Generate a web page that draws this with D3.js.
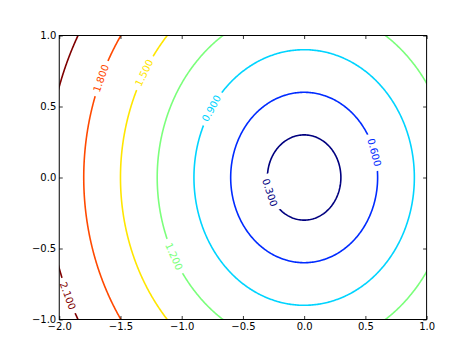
<!DOCTYPE html>
<html>
<head>
<meta charset="utf-8">
<script src="https://cdn.jsdelivr.net/npm/d3@7"></script>
<style>
  html, body { margin: 0; padding: 0; background: #fff; }
  svg { display: block; }
  text { font-family: "DejaVu Sans", sans-serif; }
</style>
</head>
<body>
<svg id="chart" width="474" height="355"></svg>
<script>
// ---- data ----
const levels = [0.3, 0.6, 0.9, 1.2, 1.5, 1.8, 2.1];
const levelColors = ["#00007f", "#002bff", "#00d4ff", "#7bff7b", "#ffe600", "#ff4900", "#7f0000"];
const labelX = [-0.280, 0.573, -0.757, -1.063, -1.306, -1.659, -1.930];
const labelY = [-0.106, 0.177, 0.487, -0.556, 0.737, 0.698, -0.833];
const xTicks = [-2.0, -1.5, -1.0, -0.5, 0.0, 0.5, 1.0];
const yTicks = [-1.0, -0.5, 0.0, 0.5, 1.0];
const xDomain = [-2, 1];
const yDomain = [-1, 1];

// ---- layout ----
const W = 474, H = 355;
const mLeft = 59.25, mRight = 426.6, mTop = 35.5, mBottom = 319.5;
const svg = d3.select("#chart");
const x = d3.scaleLinear().domain(xDomain).range([mLeft, mRight]);
const y = d3.scaleLinear().domain(yDomain).range([mBottom, mTop]);

// ---- field on a grid (radial distance) ----
const gx0 = -2.3, gy0 = -1.3, step = 0.01;
const nx = 361, ny = 261;
const values = new Float64Array(nx * ny);
for (let j = 0; j < ny; j++) {
  for (let i = 0; i < nx; i++) {
    const xx = gx0 + i * step, yy = gy0 + j * step;
    values[j * nx + i] = Math.sqrt(xx * xx + yy * yy);
  }
}
const contours = d3.contours().size([nx, ny]).thresholds(levels)(values);
const proj = d3.geoTransform({
  point: function(px, py) {
    this.stream.point(x(gx0 + (px - 0.5) * step), y(gy0 + (py - 0.5) * step));
  }
});
const path = d3.geoPath(proj);

const defs = svg.append("defs");
defs.append("clipPath").attr("id", "plotclip")
  .append("rect").attr("x", mLeft).attr("y", mTop)
  .attr("width", mRight - mLeft).attr("height", mBottom - mTop);
const mask = defs.append("mask").attr("id", "labelmask")
  .attr("maskUnits", "userSpaceOnUse")
  .attr("x", 0).attr("y", 0).attr("width", W).attr("height", H);
mask.append("rect").attr("x", 0).attr("y", 0).attr("width", W).attr("height", H).attr("fill", "#fff");

const plot = svg.append("g").attr("clip-path", "url(#plotclip)");
const lines = plot.append("g").attr("mask", "url(#labelmask)");
lines.selectAll("path").data(contours).join("path")
  .attr("d", path)
  .attr("fill", "none")
  .attr("stroke", (d, i) => levelColors[i])
  .attr("stroke-width", 1.6);

// ---- labels ----
const sx = x(1) - x(0), sy = y(0) - y(1);
const labelG = plot.append("g");
levels.forEach((lv, i) => {
  const lx = labelX[i], ly = labelY[i];
  const px = x(lx), py = y(ly);
  let ang = Math.atan2(-lx * sy, -ly * sx) * 180 / Math.PI;
  if (ang > 90) ang -= 180;
  if (ang <= -90) ang += 180;
  const t = labelG.append("text")
    .attr("transform", `translate(${px},${py}) rotate(${ang})`)
    .attr("text-anchor", "middle")
    .attr("dominant-baseline", "central")
    .attr("font-size", 10)
    .attr("fill", levelColors[i])
    .text(d3.format(".3f")(lv));
  const tw = t.node().getComputedTextLength();
  const gw = tw + 9, gh = 16;
  mask.append("rect")
    .attr("x", -gw / 2).attr("y", -gh / 2)
    .attr("width", gw).attr("height", gh)
    .attr("transform", `translate(${px},${py}) rotate(${ang})`)
    .attr("fill", "#000");
});

// ---- axes ----
const fmt = d3.format(".1f");
const ax = svg.append("g").attr("transform", `translate(0,${mBottom})`)
  .call(d3.axisBottom(x).tickValues(xTicks).tickFormat(fmt).tickSizeInner(-3.5).tickSizeOuter(0).tickPadding(3));
const axT = svg.append("g").attr("transform", `translate(0,${mTop})`)
  .call(d3.axisTop(x).tickValues(xTicks).tickFormat("").tickSizeInner(-3.5).tickSizeOuter(0));
const ay = svg.append("g").attr("transform", `translate(${mLeft},0)`)
  .call(d3.axisLeft(y).tickValues(yTicks).tickFormat(fmt).tickSizeInner(-3.5).tickSizeOuter(0).tickPadding(3));
const ayR = svg.append("g").attr("transform", `translate(${mRight},0)`)
  .call(d3.axisRight(y).tickValues(yTicks).tickFormat("").tickSizeInner(-3.5).tickSizeOuter(0));
[ax, axT, ay, ayR].forEach(g => {
  g.select(".domain").remove();
  g.selectAll(".tick line").attr("stroke", "#000").attr("stroke-width", 0.8);
  g.selectAll(".tick text").attr("font-size", 10).attr("fill", "#000")
    .attr("font-family", "DejaVu Sans, sans-serif");
});

svg.append("rect").attr("x", mLeft).attr("y", mTop)
  .attr("width", mRight - mLeft).attr("height", mBottom - mTop)
  .attr("fill", "none").attr("stroke", "#000").attr("stroke-width", 1);
</script>
</body>
</html>
